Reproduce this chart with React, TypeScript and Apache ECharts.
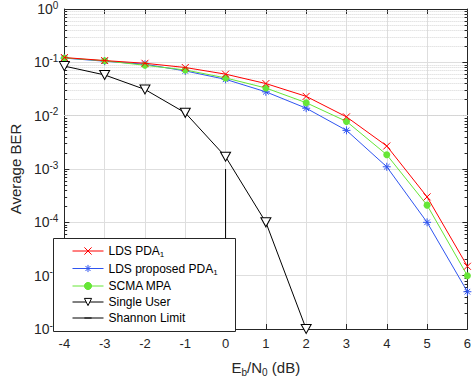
import React, { useEffect, useRef } from "react";
import * as echarts from "echarts";

const xValues = [-4, -3, -2, -1, 0, 1, 2, 3, 4, 5, 6];
const ldsPda = [0.123, 0.108, 0.096, 0.08, 0.06, 0.04, 0.023, 0.0095, 0.0027, 0.0003, 0.000015];
const ldsProposed = [0.12, 0.105, 0.092, 0.069, 0.048, 0.028, 0.0138, 0.0053, 0.0011, 0.0001, 0.000005];
const scmaMpa = [0.121, 0.107, 0.088, 0.072, 0.051, 0.033, 0.0175, 0.0078, 0.00185, 0.00021, 0.00001];
const singleX = [-4, -3, -2, -1, 0, 1, 2];
const singleUser = [0.085, 0.058, 0.031, 0.0113, 0.0017, 0.0001, 0.000001];
const shannonX = [0, 0];
const shannonY = [0.001, 0.000001];
const seriesNames = ["LDS PDA_1", "LDS proposed PDA_1", "SCMA MPA", "Single User", "Shannon Limit"];
const decades = [-6, -5, -4, -3, -2, -1];
const minorMultipliers = [2, 3, 4, 5, 6, 7, 8, 9];

const FONT = "'Liberation Sans', Arial, Helvetica, sans-serif";
const AXIS_COLOR = "#262626";

function zip(xs: number[], ys: number[]) {
  return xs.map((x, i) => [x, ys[i]]);
}

export default function App() {
  const ref = useRef<HTMLDivElement>(null);
  useEffect(() => {
    if (!ref.current) return;
    const chart = echarts.init(ref.current, undefined, { renderer: "svg" });
    const minorVals: number[] = [];
    decades.forEach((d) => minorMultipliers.forEach((m) => minorVals.push(m * Math.pow(10, d))));

    const legendFmt = (name: string) => {
      const idx = name.indexOf("_");
      if (idx < 0) return `{a|${name}}`;
      return `{a|${name.slice(0, idx)}}{s|${name.slice(idx + 1)}}`;
    };

    chart.setOption({
      animation: false,
      textStyle: { fontFamily: FONT },
      grid: { left: 48, top: 8, width: 422, height: 329, containLabel: false },
      graphic: [
        {
          type: "rect",
          z: 10,
          silent: true,
          shape: { x: 53.5, y: 238.5, width: 182, height: 93 },
          style: { fill: "#ffffff", stroke: AXIS_COLOR, lineWidth: 1 },
        },
      ],
      xAxis: [
        {
          type: "value",
          min: -4,
          max: 6,
          interval: 1,
          axisLine: { onZero: false, lineStyle: { color: AXIS_COLOR, width: 1 } },
          axisTick: { inside: true, length: 5, lineStyle: { color: AXIS_COLOR } },
          axisLabel: { fontSize: 13, color: AXIS_COLOR, margin: 8, fontFamily: FONT },
          splitLine: { show: true, lineStyle: { color: "#dedede", width: 1 } },
          name: "{a|E}{s|b}{a|/N}{s|0}{a| (dB)}",
          nameLocation: "middle",
          nameGap: 29,
          nameTextStyle: {
            color: AXIS_COLOR,
            rich: {
              a: { fontSize: 15, fontFamily: FONT, color: AXIS_COLOR },
              s: { fontSize: 10, fontFamily: FONT, color: AXIS_COLOR, verticalAlign: "bottom", padding: [9, 0, 0, 0] },
            },
          },
        },
        {
          type: "value",
          position: "top",
          min: -4,
          max: 6,
          interval: 1,
          axisLine: { show: true, onZero: false, lineStyle: { color: AXIS_COLOR, width: 1 } },
          axisTick: { show: true, inside: true, length: 5, lineStyle: { color: AXIS_COLOR } },
          axisLabel: { show: false },
          splitLine: { show: false },
        },
      ],
      yAxis: [
        {
          type: "log",
          logBase: 10,
          min: 1e-6,
          max: 1,
          axisLine: { show: true, onZero: false, lineStyle: { color: AXIS_COLOR, width: 1 } },
          axisTick: { show: true, inside: true, length: 5, lineStyle: { color: AXIS_COLOR } },
          splitLine: { show: true, lineStyle: { color: "#dedede", width: 1 } },
          axisLabel: {
            margin: 6,
            color: AXIS_COLOR,
            formatter: (v: number) => `{b|10}{s|${Math.round(Math.log10(v))}}`,
            rich: {
              b: { fontSize: 14, fontFamily: FONT, color: AXIS_COLOR },
              s: { fontSize: 10, fontFamily: FONT, color: AXIS_COLOR, verticalAlign: "top", padding: [0, 0, 8, 0] },
            },
          },
          name: "Average BER",
          nameLocation: "middle",
          nameGap: 34,
          nameTextStyle: { fontSize: 15, color: AXIS_COLOR, fontFamily: FONT },
        },
        {
          type: "log",
          logBase: 10,
          min: 1e-6,
          max: 1,
          position: "right",
          axisLine: { show: true, onZero: false, lineStyle: { color: AXIS_COLOR, width: 1 } },
          axisTick: { show: true, inside: true, length: 5, lineStyle: { color: AXIS_COLOR } },
          axisLabel: { show: false },
          splitLine: { show: false },
        },
      ],
      legend: {
        data: seriesNames,
        orient: "vertical",
        left: 53,
        top: 238,
        z: 20,
        backgroundColor: "transparent",
        borderWidth: 0,
        padding: [7, 14, 6, 19],
        itemGap: 4,
        itemWidth: 31,
        itemHeight: 9,
        itemStyle: { borderWidth: 1 },
        lineStyle: { width: 1 },
        formatter: legendFmt,
        textStyle: {
          color: "#000",
          rich: {
            a: { fontSize: 12, fontFamily: FONT, color: "#000" },
            s: { fontSize: 8, fontFamily: FONT, color: "#000", verticalAlign: "bottom", padding: [7, 0, 0, 0] },
          },
        },
      },
      series: [
        {
          name: "minor-grid",
          type: "line",
          data: [],
          z: 1,
          silent: true,
          markLine: {
            silent: true,
            z: 1,
            symbol: "none",
            label: { show: false },
            animation: false,
            lineStyle: { type: "dotted", color: "#d6d6d6", width: 1 },
            data: minorVals.map((v) => ({ yAxis: v })),
          },
        },
        {
          name: "minor-ticks",
          type: "line",
          data: [],
          z: 1,
          silent: true,
          markLine: {
            silent: true,
            z: 1,
            symbol: "none",
            label: { show: false },
            animation: false,
            lineStyle: { type: "solid", color: AXIS_COLOR, width: 1 },
            data: minorVals.flatMap((v) => [
              [{ coord: [-4, v] }, { coord: [-3.93, v] }],
              [{ coord: [5.93, v] }, { coord: [6, v] }],
            ]),
          },
        },
        {
          name: seriesNames[0],
          type: "line",
          data: zip(xValues, ldsPda),
          z: 5,
          symbol: "path://M0,0L10,10M10,0L0,10",
          symbolSize: 7,
          symbolKeepAspect: true,
          lineStyle: { color: "#ff0000", width: 1 },
          itemStyle: { color: "#ff0000", borderColor: "#ff0000", borderWidth: 1 },
        },
        {
          name: seriesNames[1],
          type: "line",
          data: zip(xValues, ldsProposed),
          z: 4,
          symbol: "path://M5,0L5,10M0,5L10,5M1.5,1.5L8.5,8.5M8.5,1.5L1.5,8.5",
          symbolSize: 8,
          symbolKeepAspect: true,
          lineStyle: { color: "#2f55f0", width: 1 },
          itemStyle: { color: "#2f55f0", borderColor: "#2f55f0", borderWidth: 1 },
        },
        {
          name: seriesNames[2],
          type: "line",
          data: zip(xValues, scmaMpa),
          z: 4,
          symbol: "circle",
          symbolSize: 7,
          lineStyle: { color: "#66e636", width: 1 },
          itemStyle: { color: "#66e636", borderColor: "#66e636", borderWidth: 0 },
        },
        {
          name: seriesNames[3],
          type: "line",
          data: zip(singleX, singleUser),
          z: 4,
          symbol: "path://M0,0L10,0L5,9Z",
          symbolSize: [10, 9],
          lineStyle: { color: "#000000", width: 1 },
          itemStyle: { color: "#ffffff", borderColor: "#000000", borderWidth: 1 },
        },
        {
          name: seriesNames[4],
          type: "line",
          data: zip(shannonX, shannonY),
          z: 3,
          symbol: "path://M0,0L0,0M0,5L10,5M10,10L10,10",
          showSymbol: false,
          lineStyle: { color: "#000000", width: 1 },
          itemStyle: { color: "#000000", borderColor: "#000000", borderWidth: 1 },
        },
      ],
    });
    return () => chart.dispose();
  }, []);
  return (
    <div
      ref={ref}
      style={{ position: "fixed", left: 0, top: 0, width: 474, height: 382, background: "#fff" }}
    />
  );
}
